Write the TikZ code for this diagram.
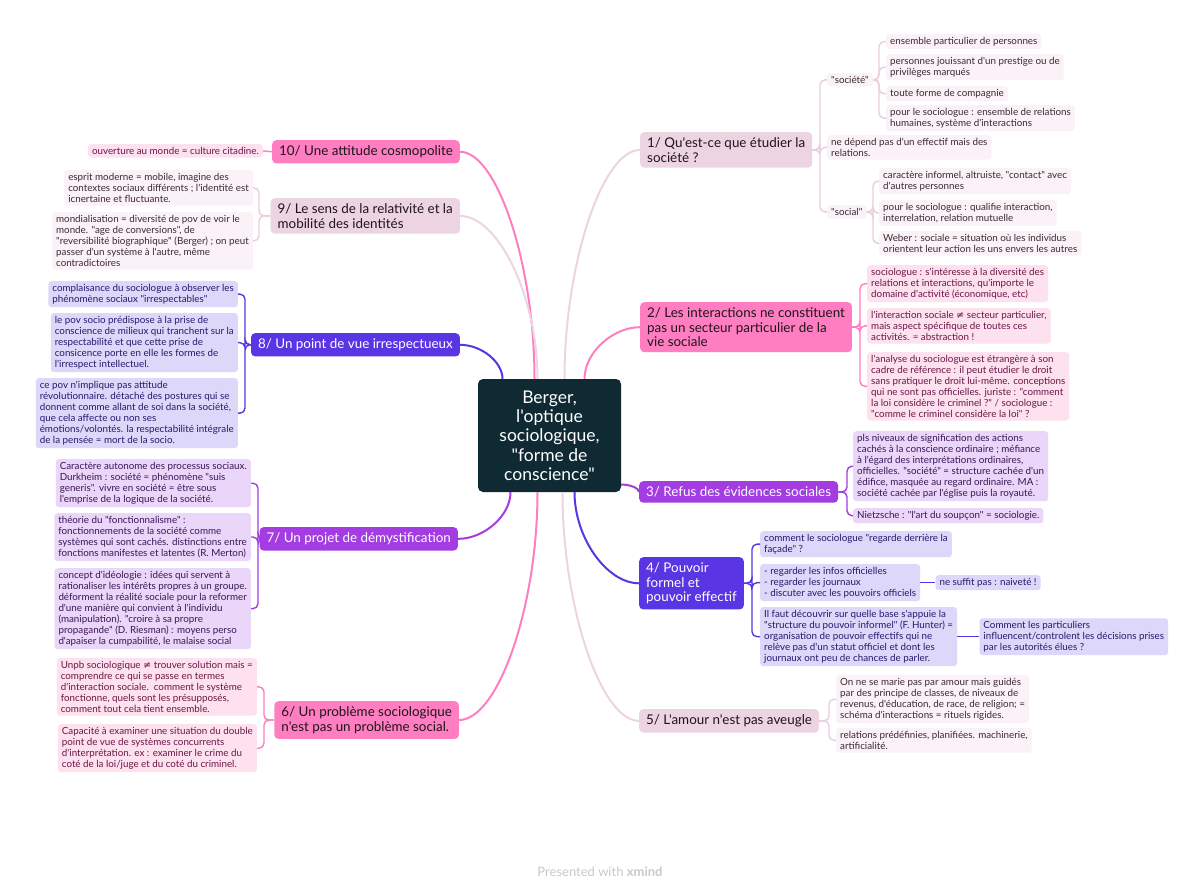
\documentclass[tikz,border=0pt]{standalone}
\usepackage{fontspec}
\setmainfont{Lato}[Ligatures=TeXOff]
\newfontfamily\symf{DejaVu Sans}
\usetikzlibrary{calc}
\newcommand\nq{{\symf ≠}}
\newcommand\kf{\fontsize{9.8}{11}\selectfont}
\newcommand\brf{\fontsize{13.4}{14.5}\selectfont}
\newcommand\ctf{\fontsize{17.5}{19.3}\selectfont}
\definecolor{pinkB}{HTML}{FF7EC2}
\definecolor{purpB}{HTML}{A33DE2}
\definecolor{indB}{HTML}{5A35E4}
\definecolor{mauveB}{HTML}{EDD4E3}
\definecolor{ctr}{HTML}{0F2A33}
\definecolor{pinkL}{HTML}{FDE1EF}
\definecolor{purpL}{HTML}{EAD6F8}
\definecolor{indL}{HTML}{DDD7FA}
\definecolor{mauveL}{HTML}{FBF2F7}
\definecolor{pinkT}{HTML}{6A1745}
\definecolor{purpT}{HTML}{3A1656}
\definecolor{indT}{HTML}{261A6B}
\definecolor{mauveT}{HTML}{3B2833}
\definecolor{darkT}{HTML}{1E1419}
\definecolor{mauveC}{HTML}{EACDDD}
\definecolor{footg}{HTML}{C9C9C9}
\tikzset{
  kid/.style={rounded corners=3pt, inner xsep=4pt, inner ysep=3pt, align=left, font=\kf},
  kidM/.style={kid, fill=mauveL, text=mauveT},
  kidP/.style={kid, fill=pinkL, text=pinkT},
  kidU/.style={kid, fill=purpL, text=purpT},
  kidI/.style={kid, fill=indL, text=indT},
  brbox/.style={rounded corners=4pt, inner xsep=7pt, inner ysep=5.5pt, align=left, font=\brf},
  brM/.style={brbox, fill=mauveB, text=darkT},
  brP/.style={brbox, fill=pinkB, text=darkT},
  brU/.style={brbox, fill=purpB, text=white},
  brI/.style={brbox, fill=indB, text=white},
  ctrbox/.style={rounded corners=5pt, fill=ctr, text=white, align=center, font=\ctf, minimum width=143pt, minimum height=113pt, inner sep=2pt},
  trunk/.style={line width=2pt},
  conn/.style={line width=1.4pt, rounded corners=5pt},
}
% smooth trunk: #1 colour, #2 start coordinate, #3 target anchor
\newcommand\trunkto[3]{\draw[trunk, #1] (#2) .. controls ($(#2)!0.5!(#2 |- #3)$) and ($(#3)!0.5!(#2 |- #3)$) .. (#3);}
\newcommand\trunkh[3]{\draw[trunk, #1] (#2) .. controls ($(#2)!0.5!(#2 -| #3)$) and ($(#3)!0.5!(#2 -| #3)$) .. (#3);}
\begin{document}
\begin{tikzpicture}[x=1pt,y=-1pt]
\fill[white] (0,0) rectangle (1200,892);
\useasboundingbox (0,0) rectangle (1200,892);

% central
\node[ctrbox] (c) at (549.5,435.5) {Berger,\\l'optique\\sociologique,\\"forme de\\conscience"};

% branches right
\node[brM, anchor=north west] (b1) at (640,132) {1/ Qu'est-ce que étudier la\\société ?};
\node[brP, anchor=north west] (b2) at (640,302) {2/ Les interactions ne constituent\\pas un secteur particulier de la\\vie sociale};
\node[brU, anchor=north west] (b3) at (639,481) {3/ Refus des évidences sociales};
\node[brI, anchor=north west] (b4) at (639,557) {4/ Pouvoir\\formel et\\pouvoir effectif};
\node[brM, anchor=north west] (b5) at (639,709) {5/ L'amour n'est pas aveugle};
% branches left
\node[brP, anchor=north east] (b10) at (460,140) {10/ Une attitude cosmopolite};
\node[brM, anchor=north east] (b9) at (460,198) {9/ Le sens de la relativité et la\\mobilité des identités};
\node[brI, anchor=north east] (b8) at (460,333) {8/ Un point de vue irrespectueux};
\node[brU, anchor=north east] (b7) at (458,527) {7/ Un projet de démystification};
\node[brP, anchor=north east] (b6) at (459,701) {6/ Un problème sociologique\\n'est pas un problème social.};

% trunk connectors
\coordinate (o1) at ([xshift=15pt]c.north);
\coordinate (o2) at ([xshift=35pt]c.north);
\coordinate (o10) at ([xshift=-15pt]c.north);
\coordinate (o9) at ([xshift=-12pt]c.north);
\coordinate (o8) at ([xshift=-47pt]c.north);
\coordinate (o7) at ([xshift=-39pt]c.south);
\coordinate (o6) at ([xshift=-12pt]c.south);
\coordinate (o5) at ([xshift=13pt]c.south);
\coordinate (o4) at ([xshift=25pt]c.south);
\coordinate (o3) at ([yshift=-49pt]c.east);
\trunkto{mauveB}{o1}{b1.west}
\trunkto{pinkB}{o2}{b2.west}
\trunkh{purpB}{o3}{b3.west}
\trunkto{indB}{o4}{b4.west}
\trunkto{mauveB}{o5}{b5.west}
\trunkto{pinkB}{o10}{b10.east}
\trunkto{mauveB}{o9}{b9.east}
\trunkto{indB}{o8}{b8.east}
\trunkto{purpB}{o7}{b7.east}
\trunkto{pinkB}{o6}{b6.east}

% branch 1
\node[kidM, anchor=north west] (soc) at (827,73) {"société"};
\node[kidM, anchor=north west] (s1) at (886,34) {ensemble particulier de personnes};
\node[kidM, anchor=north west] (s2) at (886,54) {personnes jouissant d'un prestige ou de\\privilèges marqués};
\node[kidM, anchor=north west] (s3) at (886,86) {toute forme de compagnie};
\node[kidM, anchor=north west] (s4) at (886,105) {pour le sociologue : ensemble de relations\\humaines, système d'interactions};
\node[kidM, anchor=north west] (nd) at (827,135) {ne dépend pas d'un effectif mais des\\relations.};
\node[kidM, anchor=north west] (soci) at (827,205) {"social"};
\node[kidM, anchor=north west] (t1) at (879,168) {caractère informel, altruiste, "contact" avec\\d'autres personnes};
\node[kidM, anchor=north west] (t2) at (879,200) {pour le sociologue : qualifie interaction,\\interrelation, relation mutuelle};
\node[kidM, anchor=north west] (t3) at (879,231) {Weber : sociale = situation où les individus\\orientent leur action les uns envers les autres};
\coordinate (sp1) at ([xshift=-7pt]soc.west);
\coordinate (spa) at ([xshift=-7pt]s1.west);
\coordinate (spb) at ([xshift=-6pt]t1.west);
\foreach \k in {soc,nd,soci} \draw[conn, mauveC] (b1.east) -- (sp1 |- b1.east) |- (\k.west);
\foreach \k in {s1,s2,s3,s4} \draw[conn, mauveC] (soc.east) -- (spa |- soc.east) |- (\k.west);
\foreach \k in {t1,t2,t3} \draw[conn, mauveC] (soci.east) -- (spb |- soci.east) |- (\k.west);

% branch 2
\node[kidP, anchor=north west] (k21) at (867,265) {sociologue : s'intéresse à la diversité des\\relations et interactions, qu'importe le\\domaine d'activité (économique, etc)};
\node[kidP, anchor=north west] (k22) at (867,308) {l'interaction sociale \nq{} secteur particulier,\\mais aspect spécifique de toutes ces\\activités. = abstraction !};
\node[kidP, anchor=north west] (k23) at (867,352) {l'analyse du sociologue est étrangère à son\\cadre de référence : il peut étudier le droit\\sans pratiquer le droit lui-même. conceptions\\qui ne sont pas officielles. juriste : "comment\\la loi considère le criminel ?" / sociologue :\\"comme le criminel considère la loi" ?};
\coordinate (sp2) at ([xshift=-7pt]k21.west);
\foreach \k in {k21,k22,k23} \draw[conn, pinkB] (b2.east) -- (sp2 |- b2.east) |- (\k.west);

% branch 3
\node[kidU, anchor=north west] (k31) at (853,431) {pls niveaux de signification des actions\\cachés à la conscience ordinaire ; méfiance\\à l'égard des interprétations ordinaires,\\officielles. "société" = structure cachée d'un\\édifice, masquée au regard ordinaire. MA :\\société cachée par l'église puis la royauté.};
\node[kidU, anchor=north west] (k32) at (853,508) {Nietzsche : "l'art du soupçon" = sociologie.};
\coordinate (sp3) at ([xshift=-6pt]k31.west);
\foreach \k in {k31,k32} \draw[conn, purpB] (b3.east) -- (sp3 |- b3.east) |- (\k.west);

% branch 4
\node[kidI, anchor=north west] (k41) at (760,531) {comment le sociologue "regarde derrière la\\façade" ?};
\node[kidI, anchor=north west] (k42) at (760,564) {- regarder les infos officielles\\- regarder les journaux\\- discuter avec les pouvoirs officiels};
\node[kidI, anchor=north west] (k43) at (760,607) {Il faut découvrir sur quelle base s'appuie la\\"structure du pouvoir informel" (F. Hunter) =\\organisation de pouvoir effectifs qui ne\\relève pas d'un statut officiel et dont les\\journaux ont peu de chances de parler.};
\node[kidI, anchor=west] (ns) at ([xshift=15pt]k42.east) {ne suffit pas : naiveté !};
\node[kidI, anchor=west] (cm) at ([xshift=22pt]k43.east) {Comment les particuliers\\influencent/controlent les décisions prises\\par les autorités élues ?};
\coordinate (sp4) at ([xshift=-8pt]k41.west);
\foreach \k in {k41,k42,k43} \draw[conn, indB] (b4.east) -- (sp4 |- b4.east) |- (\k.west);
\draw[conn, indB] (k42.east) -- (ns.west);
\draw[conn, indB] (k43.east) -- (cm.west);

% branch 5
\node[kidM, anchor=north west] (k51) at (836,675) {On ne se marie pas par amour mais guidés\\par des principe de classes, de niveaux de\\revenus, d'éducation, de race, de religion; =\\schéma d'interactions = rituels rigides.};
\node[kidM, anchor=north west] (k52) at (836,728) {relations prédéfinies, planifiées. machinerie,\\artificialité.};
\coordinate (sp5) at ([xshift=-7pt]k51.west);
\foreach \k in {k51,k52} \draw[conn, mauveC] (b5.east) -- (sp5 |- b5.east) |- (\k.west);

% branch 10
\node[kidP, anchor=north east] (k10) at (263,144) {ouverture au monde = culture citadine.};
\draw[conn, pinkB] (b10.west) -- (k10.east);

% branch 9
\node[kidM, anchor=north east] (k91) at (253,170) {esprit moderne = mobile, imagine des\\contextes sociaux différents ; l'identité est\\icnertaine et fluctuante.};
\node[kidM, anchor=north east] (k92) at (253,212) {mondialisation = diversité de pov de voir le\\monde. "age de conversions", de\\"reversibilité biographique" (Berger) ; on peut\\passer d'un système à l'autre, même\\contradictoires};
\coordinate (sp9) at ([xshift=6pt]k91.east);
\foreach \k in {k91,k92} \draw[conn, mauveC] (b9.west) -- (sp9 |- b9.west) |- (\k.east);

% branch 8
\node[kidI, anchor=north east] (k81) at (238,281) {complaisance du sociologue à observer les\\phénomène sociaux "irrespectables"};
\node[kidI, anchor=north east] (k82) at (238,313) {le pov socio prédispose à la prise de\\conscience de milieux qui tranchent sur la\\respectabilité et que cette prise de\\consicence porte en elle les formes de\\l'irrespect intellectuel.};
\node[kidI, anchor=north east] (k83) at (238,378) {ce pov n'implique pas attitude\\révolutionnaire. détaché des postures qui se\\donnent comme allant de soi dans la société,\\que cela affecte ou non ses\\émotions/volontés. la respectabilité intégrale\\de la pensée = mort de la socio.};
\coordinate (sp8) at ([xshift=7pt]k81.east);
\foreach \k in {k81,k82,k83} \draw[conn, indB] (b8.west) -- (sp8 |- b8.west) |- (\k.east);

% branch 7
\node[kidU, anchor=north east] (k71) at (251,459) {Caractère autonome des processus sociaux.\\Durkheim : société = phénomène "suis\\generis". vivre en société = être sous\\l'emprise de la logique de la société.};
\node[kidU, anchor=north east] (k72) at (251,513) {théorie du "fonctionnalisme" :\\fonctionnements de la société comme\\systèmes qui sont cachés. distinctions entre\\fonctions manifestes et latentes (R. Merton)};
\node[kidU, anchor=north east] (k73) at (251,568) {concept d'idéologie : idées qui servent à\\rationaliser les intérêts propres à un groupe.\\déforment la réalité sociale pour la reformer\\d'une manière qui convient à l'individu\\(manipulation). "croire à sa propre\\propagande" (D. Riesman) : moyens perso\\d'apaiser la cumpabilité, le malaise social};
\coordinate (sp7) at ([xshift=7pt]k71.east);
\foreach \k in {k71,k72,k73} \draw[conn, purpB] (b7.west) -- (sp7 |- b7.west) |- (\k.east);

% branch 6
\node[kidP, anchor=north east] (k61) at (257,658) {Unpb sociologique \nq{} trouver solution mais =\\comprendre ce qui se passe en termes\\d'interaction sociale.\ \ comment le système\\fonctionne, quels sont les présupposés,\\comment tout cela tient ensemble.};
\node[kidP, anchor=north east] (k62) at (257,724) {Capacité à examiner une situation du double\\point de vue de systèmes concurrents\\d'interprétation. ex : examiner le crime du\\coté de la loi/juge et du coté du criminel.};
\coordinate (sp6) at ([xshift=7pt]k61.east);
\foreach \k in {k61,k62} \draw[conn, pinkB] (b6.west) -- (sp6 |- b6.west) |- (\k.east);

% footer
\node[text=footg, font=\fontsize{13}{15}\selectfont] (ft) at (600,872) {Presented with \textbf{xmind}};
\end{tikzpicture}
\end{document}
